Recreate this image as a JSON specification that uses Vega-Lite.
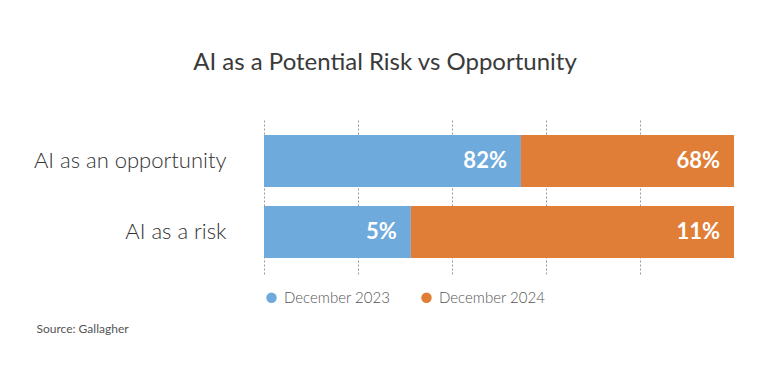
{
  "$schema": "https://vega.github.io/schema/vega-lite/v6.json",
  "autosize": {"type": "none"},
  "width": 470,
  "height": 155,
  "padding": {"left": 264, "top": 119, "right": 36, "bottom": 96},
  "background": "white",
  "view": {"stroke": null},
  "title": {
    "text": "AI as a Potential Risk vs Opportunity",
    "anchor": "middle",
    "dx": -114,
    "offset": 44,
    "font": "Lato",
    "fontSize": 24,
    "fontWeight": 400,
    "color": "#3a3a3a"
  },
  "data": {
    "values": [
      {"item": "AI as an opportunity", "series": "December 2023", "value": 82, "label": "82%"},
      {"item": "AI as an opportunity", "series": "December 2024", "value": 68, "label": "68%"},
      {"item": "AI as a risk", "series": "December 2023", "value": 5, "label": "5%"},
      {"item": "AI as a risk", "series": "December 2024", "value": 11, "label": "11%"}
    ]
  },
  "transform": [
    {"stack": "value", "groupby": ["item"], "sort": [{"field": "series", "order": "ascending"}], "offset": "normalize", "as": ["x0", "x1"]}
  ],
  "encoding": {
    "y": {
      "field": "item",
      "type": "nominal",
      "sort": ["AI as an opportunity", "AI as a risk"],
      "scale": {"paddingInner": 0.27, "paddingOuter": 0.225},
      "axis": {
        "title": null,
        "domain": false,
        "ticks": false,
        "labelPadding": 38,
        "labelFont": "Lato",
        "labelFontSize": 22,
        "labelFontWeight": 300,
        "labelColor": "#333333",
        "labelLimit": 300
      }
    }
  },
  "layer": [
    {
      "mark": {"type": "bar"},
      "encoding": {
        "x": {
          "field": "x0",
          "type": "quantitative",
          "scale": {"domain": [0, 1], "nice": false},
          "axis": {
            "values": [0, 0.2, 0.4, 0.6, 0.8],
            "labels": false,
            "ticks": false,
            "domain": false,
            "grid": true,
            "gridDash": [2, 2],
            "gridColor": "#999999",
            "gridWidth": 1,
            "title": "Source: Gallagher",
            "titleX": -228,
            "titleY": 58,
            "titleAlign": "left",
            "titleAnchor": null,
            "titleBaseline": "alphabetic",
            "titleFont": "Lato",
            "titleFontSize": 12,
            "titleFontWeight": 400,
            "titleColor": "#555555"
          }
        },
        "x2": {"field": "x1"},
        "color": {
          "field": "series",
          "type": "nominal",
          "scale": {"domain": ["December 2023", "December 2024"], "range": ["#6FAADC", "#E07E38"]},
          "legend": {
            "title": null,
            "orient": "none",
            "direction": "horizontal",
            "legendX": 0,
            "legendY": 171,
            "symbolType": "circle",
            "symbolSize": 110,
            "symbolStrokeWidth": 0,
            "labelFont": "Lato",
            "labelFontSize": 15,
            "labelFontWeight": 300,
            "labelColor": "#555555",
            "labelOffset": 5,
            "columnPadding": 28
          }
        }
      }
    },
    {
      "mark": {"type": "text", "align": "right", "baseline": "middle", "dx": -14, "font": "Lato", "fontSize": 22, "fontWeight": "bold", "color": "white"},
      "encoding": {
        "x": {"field": "x1", "type": "quantitative"},
        "text": {"field": "label"}
      }
    }
  ]
}
